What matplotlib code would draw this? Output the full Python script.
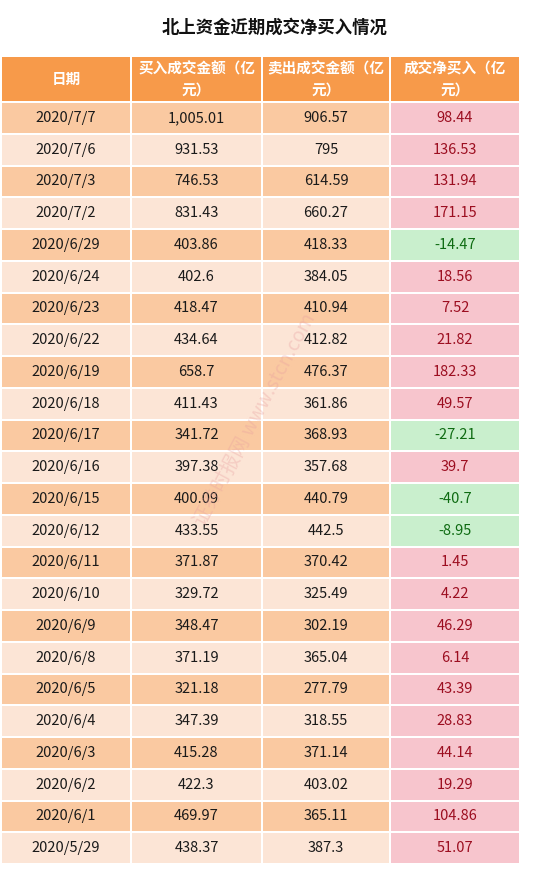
import matplotlib
matplotlib.use("Agg")
import matplotlib.pyplot as plt
from matplotlib.patches import Rectangle

plt.rcParams['font.family'] = ['Noto Sans CJK SC', 'DejaVu Sans']

title = "北上资金近期成交净买入情况"
headers = ["日期", "买入成交金额（亿\n元）", "卖出成交金额（亿\n元）", "成交净买入（亿\n元）"]
dates = ["2020/7/7","2020/7/6","2020/7/3","2020/7/2","2020/6/29","2020/6/24","2020/6/23","2020/6/22",
         "2020/6/19","2020/6/18","2020/6/17","2020/6/16","2020/6/15","2020/6/12","2020/6/11","2020/6/10",
         "2020/6/9","2020/6/8","2020/6/5","2020/6/4","2020/6/3","2020/6/2","2020/6/1","2020/5/29"]
buy = ["1,005.01","931.53","746.53","831.43","403.86","402.6","418.47","434.64","658.7","411.43","341.72",
       "397.38","400.09","433.55","371.87","329.72","348.47","371.19","321.18","347.39","415.28","422.3",
       "469.97","438.37"]
sell = ["906.57","795","614.59","660.27","418.33","384.05","410.94","412.82","476.37","361.86","368.93",
        "357.68","440.79","442.5","370.42","325.49","302.19","365.04","277.79","318.55","371.14","403.02",
        "365.11","387.3"]
net = [98.44,136.53,131.94,171.15,-14.47,18.56,7.52,21.82,182.33,49.57,-27.21,39.7,-40.7,-8.95,1.45,4.22,
       46.29,6.14,43.39,28.83,44.14,19.29,104.86,51.07]

W, H = 550, 869
fig = plt.figure(figsize=(W/100, H/100), dpi=100)
ax = fig.add_axes([0, 0, 1, 1])
ax.set_xlim(0, W); ax.set_ylim(H, 0); ax.axis('off')

ax.text(275, 28, title, ha='center', va='center', fontsize=12.5, fontweight='bold', color='#111111')

cols = [(2, 130), (132, 261), (263, 389), (391, 519)]
hy0, hy1 = 57, 101
for (x0, x1), h in zip(cols, headers):
    ax.add_patch(Rectangle((x0, hy0), x1-x0, hy1-hy0, color='#F79A4A', lw=0))
    ax.text((x0+x1)/2, (hy0+hy1)/2, h, ha='center', va='center', color='white',
            fontsize=10.5, fontweight='bold', linespacing=1.4)

y0 = 103; rh = 31.75
for i in range(len(dates)):
    top = y0 + i*rh
    bg = '#FAC9A1' if i % 2 == 0 else '#FCE5D6'
    vals = [dates[i], buy[i], sell[i], f"{net[i]:g}"]
    for j, ((x0, x1), v) in enumerate(zip(cols, vals)):
        if j == 3:
            c = '#F7C5CD' if net[i] >= 0 else '#C9EFCD'
            tc = '#9C0E20' if net[i] >= 0 else '#0E6B12'
        else:
            c, tc = bg, '#1a1a1a'
        ax.add_patch(Rectangle((x0, top), x1-x0, rh-2, color=c, lw=0))
        ax.text((x0+x1)/2, top+(rh-2)/2, v, ha='center', va='center', color=tc, fontsize=10.5)

ax.text(255, 420, "证券时报网 www.stcn.com", ha='center', va='center', rotation=62,
        fontsize=14, color='#E8A0A0', alpha=0.35)

fig.savefig("out.png", dpi=100)
